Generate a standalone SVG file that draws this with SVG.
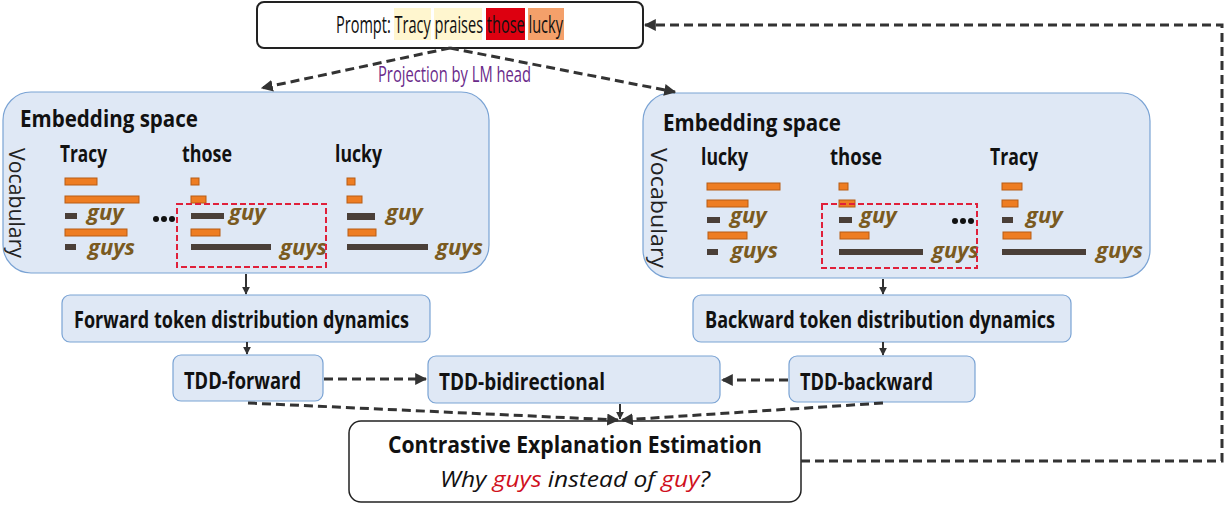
<svg xmlns="http://www.w3.org/2000/svg" width="1228" height="505" viewBox="0 0 1228 505">
<defs>
<marker id="ah" viewBox="0 0 10 10" refX="9" refY="5" markerWidth="4" markerHeight="4" orient="auto"><path d="M0,0 L10,5 L0,10 z" fill="#333"/></marker>
<style>
text{font-family:"Open Sans","Liberation Sans",sans-serif;}
.panel{fill:#dfe8f5;stroke:#7aa3d4;stroke-width:1.2}
.box{fill:#dfe8f5;stroke:#7aa3d4;stroke-width:1.2}
.b{font-weight:bold;font-size:23px;fill:#111}
.w{font-weight:bold;font-size:23px;fill:#111}
.o{fill:#ee7d22;stroke:#b85c14;stroke-width:1}
.d{fill:#4a3f38}
.g{font-style:italic;font-weight:bold;font-size:22px;fill:#7a5a20}
.red{fill:none;stroke:#e0203a;stroke-width:2;stroke-dasharray:6,3}
.dash{fill:none;stroke:#333;stroke-width:3;stroke-dasharray:9,5;marker-end:url(#ah)}
.solid{fill:none;stroke:#333;stroke-width:2;marker-end:url(#ah)}
.dot{fill:#111}
</style>
</defs>
<g id="prompt">
<rect x="257" y="2" width="386" height="46" rx="7" fill="#fff" stroke="#222" stroke-width="2"/>
<rect x="394" y="8" width="37" height="32" fill="#fff6cf"/>
<rect x="434" y="8" width="48" height="32" fill="#fff6cf"/>
<rect x="486" y="8" width="39" height="32" fill="#dd0010"/>
<rect x="528" y="8" width="36" height="32" fill="#f4a06a"/>
<text x="336" y="33" font-size="23" fill="#111" textLength="227" lengthAdjust="spacingAndGlyphs">Prompt: Tracy praises those lucky</text>
</g>
<text x="378" y="82" font-size="22" fill="#6a2a8a" textLength="153" lengthAdjust="spacingAndGlyphs">Projection by LM head</text>
<g id="left-panel">
<rect class="panel" x="3" y="92" width="486" height="181" rx="28"/>
<text class="b" x="20" y="127" textLength="178" lengthAdjust="spacingAndGlyphs">Embedding space</text>
<text x="9" y="148" font-size="22" fill="#222" transform="rotate(90 9 148)" textLength="110" lengthAdjust="spacingAndGlyphs">Vocabulary</text>
<text class="w" x="60" y="162" textLength="47" lengthAdjust="spacingAndGlyphs">Tracy</text>
<text class="w" x="182" y="162" textLength="50" lengthAdjust="spacingAndGlyphs">those</text>
<text class="w" x="335" y="162" textLength="47" lengthAdjust="spacingAndGlyphs">lucky</text>
<rect class="o" x="65" y="178" width="32" height="7"/>
<rect class="o" x="65" y="196" width="74" height="7"/>
<rect class="d" x="65" y="213" width="12" height="6"/>
<rect class="o" x="65" y="229" width="62" height="7"/>
<rect class="d" x="65" y="244" width="11" height="6"/>
<text class="g" x="87" y="220">guy</text><text class="g" x="88" y="255">guys</text>
<circle class="dot" cx="156" cy="219" r="3"/><circle class="dot" cx="164" cy="219" r="3"/><circle class="dot" cx="172" cy="219" r="3"/>
<rect class="o" x="191" y="178" width="8" height="7"/>
<rect class="o" x="191" y="196" width="15" height="7"/>
<rect class="d" x="191" y="213" width="33" height="6"/>
<rect class="o" x="191" y="229" width="29" height="7"/>
<rect class="d" x="191" y="244" width="80" height="6"/>
<text class="g" x="229" y="220">guy</text><text class="g" x="280" y="255">guys</text>
<rect class="red" x="177" y="204" width="149" height="63"/>
<rect class="o" x="347" y="178" width="8" height="7"/>
<rect class="o" x="347" y="196" width="15" height="7"/>
<rect class="d" x="347" y="213" width="28" height="7"/>
<rect class="o" x="348" y="229" width="28" height="7"/>
<rect class="d" x="347" y="244" width="81" height="6"/>
<text class="g" x="386" y="220">guy</text><text class="g" x="436" y="255">guys</text>
</g>
<g id="right-panel">
<rect class="panel" x="643" y="93" width="507" height="185" rx="28"/>
<text class="b" x="663" y="131" textLength="178" lengthAdjust="spacingAndGlyphs">Embedding space</text>
<text x="651" y="148" font-size="22" fill="#222" transform="rotate(90 651 148)" textLength="120" lengthAdjust="spacingAndGlyphs">Vocabulary</text>
<text class="w" x="701" y="165" textLength="47" lengthAdjust="spacingAndGlyphs">lucky</text>
<text class="w" x="830" y="165" textLength="52" lengthAdjust="spacingAndGlyphs">those</text>
<text class="w" x="990" y="165" textLength="48" lengthAdjust="spacingAndGlyphs">Tracy</text>
<rect class="o" x="707" y="183" width="73" height="7"/>
<rect class="o" x="707" y="200" width="41" height="7"/>
<rect class="d" x="707" y="217" width="13" height="6"/>
<rect class="o" x="708" y="232" width="39" height="7"/>
<rect class="d" x="707" y="249" width="11" height="6"/>
<text class="g" x="730" y="223">guy</text><text class="g" x="731" y="258">guys</text>
<rect class="o" x="839" y="183" width="9" height="7"/>
<rect class="o" x="839" y="200" width="16" height="7"/>
<rect class="d" x="839" y="217" width="13" height="6"/>
<rect class="o" x="840" y="232" width="29" height="7"/>
<rect class="d" x="839" y="249" width="84" height="6"/>
<text class="g" x="860" y="223">guy</text><text class="g" x="932" y="258">guys</text>
<circle class="dot" cx="955" cy="221" r="3"/><circle class="dot" cx="963" cy="221" r="3"/><circle class="dot" cx="971" cy="221" r="3"/>
<rect class="red" x="822" y="204" width="155" height="64"/>
<rect class="o" x="1002" y="183" width="20" height="7"/>
<rect class="o" x="1002" y="200" width="16" height="7"/>
<rect class="d" x="1002" y="217" width="11" height="6"/>
<rect class="o" x="1003" y="232" width="28" height="7"/>
<rect class="d" x="1002" y="249" width="84" height="6"/>
<text class="g" x="1026" y="223">guy</text><text class="g" x="1096" y="258">guys</text>
</g>
<g id="forward-dyn"><rect class="box" x="62" y="295" width="368" height="47" rx="8"/><text class="b" x="74" y="328" textLength="335" lengthAdjust="spacingAndGlyphs">Forward token distribution dynamics</text></g>
<g id="backward-dyn"><rect class="box" x="693" y="295" width="378" height="47" rx="8"/><text class="b" x="705" y="328" textLength="350" lengthAdjust="spacingAndGlyphs">Backward token distribution dynamics</text></g>
<g id="tdd-forward"><rect class="box" x="173" y="355" width="150" height="46" rx="8"/><text class="b" x="184" y="389" textLength="117" lengthAdjust="spacingAndGlyphs">TDD-forward</text></g>
<g id="tdd-bi"><rect class="box" x="428" y="356" width="292" height="47" rx="8"/><text class="b" x="439" y="390" textLength="166" lengthAdjust="spacingAndGlyphs">TDD-bidirectional</text></g>
<g id="tdd-backward"><rect class="box" x="789" y="356" width="186" height="46" rx="8"/><text class="b" x="800" y="390" textLength="133" lengthAdjust="spacingAndGlyphs">TDD-backward</text></g>
<g id="cee">
<rect x="349" y="421" width="452" height="81" rx="12" fill="#fff" stroke="#222" stroke-width="1.5"/>
<text class="b" x="575" y="453" text-anchor="middle" textLength="374" lengthAdjust="spacingAndGlyphs">Contrastive Explanation Estimation</text>
<text x="575" y="487" text-anchor="middle" font-size="22" font-style="italic" fill="#111" textLength="270" lengthAdjust="spacingAndGlyphs">Why <tspan fill="#d01020">guys</tspan> instead of <tspan fill="#d01020">guy</tspan>?</text>
</g>
<g id="connectors">
<path class="dash" d="M450,48 L262,88"/>
<path class="dash" d="M450,48 L675,92"/>
<path class="solid" d="M246,274 L246,294"/>
<path class="solid" d="M883,279 L883,294"/>
<path class="solid" d="M247,342 L247,354"/>
<path class="solid" d="M883,342 L883,355"/>
<path class="dash" d="M324,379 L426,379"/>
<path class="dash" d="M788,380 L722,380"/>
<path class="dash" d="M248,403 L618,420"/>
<path class="dash" d="M883,403 L622,420"/>
<path class="dash" style="stroke-width:2" d="M620,404 L620,419"/>
<path class="dash" d="M801,461 L1222,461 L1222,25 L645,25"/>
</g>
</svg>
